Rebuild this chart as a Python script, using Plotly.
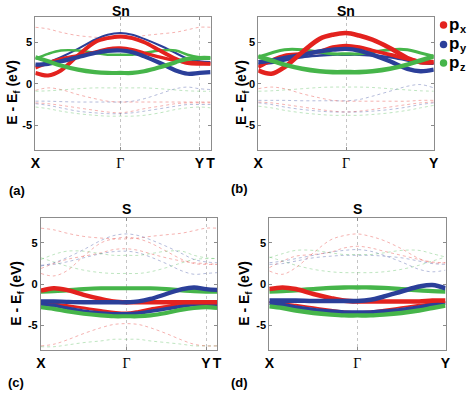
import plotly.graph_objects as go

# ---------------- data ----------------
# k-path coordinates (X-Γ-Y-T and X-Γ-Y)
K_XGYT = [0, 0.15, 0.3, 0.5, 0.7, 0.85, 1.0, 1.14, 1.28, 1.465, 1.65, 1.79, 1.93, 2.06]
K_XGY = [0, 0.15, 0.3, 0.5, 0.7, 0.85, 1.0, 1.15, 1.3, 1.5, 1.7, 1.85, 2.0]
TICKPOS_XGYT = [0, 1.0, 1.93, 2.06]
TICKTXT_XGYT = ["X", "Γ", "Y", "T"]
TICKPOS_XGY = [0, 1.0, 2.0]
TICKTXT_XGY = ["X", "Γ", "Y"]
Y_TICKS = [-5, 0, 5]

# band energies along X-Γ-Y-T (eV)
T_CB_R1 = [1.3, 1.0, 1.6, 3.4, 5.0, 5.5, 5.7, 5.5, 5.0, 4.0, 3.0, 2.5, 2.4, 2.4]
T_CB_R2 = [1.9, 2.5, 3.0, 3.4, 3.8, 4.2, 4.3, 4.1, 3.7, 3.2, 2.8, 2.6, 2.5, 2.4]
T_CB_B1 = [2.3, 2.4, 2.7, 3.2, 3.7, 3.95, 4.0, 3.8, 3.3, 2.5, 1.6, 1.2, 1.3, 1.4]
T_CB_B2 = [2.2, 2.6, 3.2, 4.2, 5.3, 5.9, 6.1, 5.9, 5.4, 4.6, 3.7, 3.0, 2.7, 2.6]
T_CB_G1 = [3.2, 2.7, 2.2, 1.7, 1.4, 1.3, 1.3, 1.3, 1.5, 2.0, 2.6, 3.0, 3.1, 3.1]
T_CB_G2 = [3.0, 3.6, 4.0, 4.0, 3.7, 3.5, 3.5, 3.5, 3.7, 4.0, 4.0, 3.5, 3.2, 3.1]
T_CB_R3 = [6.8, 6.6, 6.2, 5.8, 5.6, 5.5, 5.5, 5.6, 5.8, 6.0, 6.2, 6.5, 6.8, 6.8]
T_VB_G1 = [-0.9, -0.85, -0.75, -0.6, -0.5, -0.5, -0.5, -0.5, -0.5, -0.6, -0.75, -0.85, -0.9, -0.9]
T_VB_R1 = [-0.8, -0.5, -0.7, -1.3, -1.8, -2.1, -2.2, -2.2, -2.2, -2.2, -2.2, -2.2, -2.2, -2.2]
T_VB_B1 = [-2.1, -2.1, -2.15, -2.2, -2.2, -2.2, -2.2, -2.1, -1.8, -1.2, -0.6, -0.4, -0.6, -0.7]
T_VB_B2 = [-2.4, -2.6, -2.9, -3.3, -3.5, -3.6, -3.6, -3.5, -3.3, -3.0, -2.7, -2.5, -2.5, -2.5]
T_VB_R2 = [-2.3, -2.4, -2.6, -2.9, -3.2, -3.4, -3.5, -3.3, -3.0, -2.7, -2.4, -2.3, -2.3, -2.3]
T_VB_G2 = [-2.8, -3.0, -3.3, -3.6, -3.8, -3.9, -3.9, -3.9, -3.8, -3.5, -3.1, -2.9, -2.8, -2.9]
T_DB_R1 = [-7.5, -7.3, -6.8, -6.0, -5.3, -4.9, -4.8, -4.9, -5.3, -6.0, -6.8, -7.3, -7.5, -7.5]
T_DB_G1 = [-7.6, -7.6, -7.4, -7.1, -6.9, -6.7, -6.7, -6.7, -6.9, -7.1, -7.3, -7.5, -7.5, -7.5]

BANDS_XGYT = [T_CB_R1, T_CB_R2, T_CB_B1, T_CB_B2, T_CB_G1, T_CB_G2, T_CB_R3,
              T_VB_G1, T_VB_R1, T_VB_B1, T_VB_B2, T_VB_R2, T_VB_G2, T_DB_R1, T_DB_G1]
ORB_XGYT = ["px", "px", "py", "py", "pz", "pz", "px",
            "pz", "px", "py", "py", "px", "pz", "px", "pz"]
W_SN_XGYT = [0.8, 0.65, 0.85, 0.35, 0.85, 0.45, 0.1,
             0.12, 0.1, 0.08, 0.12, 0.1, 0.15, 0.0, 0.0]
W_S_XGYT = [0.15, 0.1, 0.15, 0.15, 0.1, 0.15, 0.08,
            0.85, 0.9, 0.9, 0.7, 0.55, 0.85, 0.15, 0.12]

# band energies along X-Γ-Y (eV)
G_CB_R1 = [1.6, 1.2, 2.0, 3.8, 5.4, 5.9, 6.1, 5.8, 5.3, 4.3, 3.1, 2.6, 2.6]
G_CB_R2 = [2.0, 2.8, 3.4, 3.6, 3.9, 4.4, 4.6, 4.4, 4.0, 3.5, 3.0, 2.7, 2.6]
G_CB_B1 = [2.6, 2.8, 3.1, 3.5, 3.9, 4.1, 4.2, 4.0, 3.5, 2.7, 1.8, 1.5, 1.7]
G_CB_B2 = [2.4, 2.5, 2.8, 3.2, 3.4, 3.5, 3.5, 3.5, 3.4, 3.2, 2.8, 2.5, 2.4]
G_CB_G1 = [3.3, 2.8, 2.3, 1.8, 1.5, 1.4, 1.4, 1.4, 1.5, 1.8, 2.3, 2.8, 3.3]
G_CB_G2 = [3.2, 3.7, 4.1, 4.1, 3.8, 3.6, 3.6, 3.6, 3.8, 4.1, 4.1, 3.7, 3.3]
G_VB_G1 = [-0.9, -0.85, -0.75, -0.6, -0.45, -0.4, -0.4, -0.4, -0.45, -0.6, -0.75, -0.85, -0.9]
G_VB_R1 = [-0.6, -0.4, -0.6, -1.2, -1.7, -2.0, -2.1, -2.1, -2.1, -2.1, -2.1, -2.0, -2.0]
G_VB_B1 = [-2.0, -2.0, -2.0, -2.05, -2.05, -2.05, -2.05, -1.9, -1.5, -0.9, -0.3, -0.1, -0.5]
G_VB_B2 = [-2.3, -2.5, -2.8, -3.1, -3.3, -3.4, -3.4, -3.4, -3.3, -3.1, -2.8, -2.5, -2.3]
G_VB_R2 = [-2.2, -2.3, -2.5, -2.8, -3.1, -3.3, -3.4, -3.3, -3.1, -2.8, -2.5, -2.3, -2.2]
G_VB_G2 = [-2.7, -2.9, -3.2, -3.5, -3.7, -3.8, -3.8, -3.8, -3.7, -3.5, -3.2, -2.9, -2.6]

BANDS_XGY = [G_CB_R1, G_CB_R2, G_CB_B1, G_CB_B2, G_CB_G1, G_CB_G2,
             G_VB_G1, G_VB_R1, G_VB_B1, G_VB_B2, G_VB_R2, G_VB_G2]
ORB_XGY = ["px", "px", "py", "py", "pz", "pz", "pz", "px", "py", "py", "px", "pz"]
W_SN_XGY = [0.95, 0.75, 0.9, 0.45, 0.95, 0.6, 0.1, 0.1, 0.08, 0.12, 0.1, 0.2]
W_S_XGY = [0.12, 0.12, 0.12, 0.15, 0.1, 0.15, 0.9, 0.95, 0.95, 0.8, 0.3, 0.9]

LEGEND_MAIN = ["p", "p", "p"]
LEGEND_SUB = ["x", "y", "z"]
LEGEND_ORBS = ["px", "py", "pz"]

# ---------------- style ----------------
W, H = 474, 399
COLORS = {"px": "#e3221e", "py": "#2b3f99", "pz": "#46b54a"}
FONT = "Liberation Sans, Arial, sans-serif"
FRAME = "#8c8c8c"


def px_x(p):
    return p / W


def px_y(p):
    return 1 - p / H


panels = [
    dict(ax="", xd=(31, 210), yd=(17.3, 150.2), k=K_XGYT, bands=BANDS_XGYT, orbs=ORB_XGYT,
         w=W_SN_XGYT, tp=TICKPOS_XGYT, tt=TICKTXT_XGYT, title="Sn", tpos=(119, 11),
         ylab=(8, 92), lab="(a)", lpos=(12, 190)),
    dict(ax="2", xd=(258.7, 438), yd=(17.3, 150.2), k=K_XGY, bands=BANDS_XGY, orbs=ORB_XGY,
         w=W_SN_XGY, tp=TICKPOS_XGY, tt=TICKTXT_XGY, title="Sn", tpos=(348, 11),
         ylab=(242, 92), lab="(b)", lpos=(240, 189)),
    dict(ax="3", xd=(36.7, 216.7), yd=(218.3, 350), k=K_XGYT, bands=BANDS_XGYT, orbs=ORB_XGYT,
         w=W_S_XGYT, tp=TICKPOS_XGYT, tt=TICKTXT_XGYT, title="S", tpos=(124, 209),
         ylab=(12, 293), lab="(c)", lpos=(11, 382)),
    dict(ax="4", xd=(270, 450), yd=(218.3, 350), k=K_XGY, bands=BANDS_XGY, orbs=ORB_XGY,
         w=W_S_XGY, tp=TICKPOS_XGY, tt=TICKTXT_XGY, title="S", tpos=(360, 209),
         ylab=(245, 293), lab="(d)", lpos=(240, 382)),
]

fig = go.Figure()
layout = dict(width=W, height=H, margin=dict(l=0, r=0, t=0, b=0),
              paper_bgcolor="white", plot_bgcolor="white", showlegend=False,
              font=dict(family=FONT, color="black"))
annotations = []
shapes = []


def note(text, xp, yp, size, xanchor="center", angle=0, weight="bold"):
    annotations.append(dict(text=text, x=px_x(xp), y=px_y(yp), xref="paper", yref="paper",
                            xanchor=xanchor, yanchor="middle", showarrow=False, textangle=angle,
                            font=dict(size=size, family=FONT, weight=weight, color="black")))


for p in panels:
    xa = "x" + p["ax"]
    ya = "y" + p["ax"]
    order = sorted(range(len(p["bands"])), key=lambda i: p["w"][i])
    for i in order:
        wt = p["w"][i]
        if wt <= 0:
            continue
        faint = wt < 0.25
        fig.add_trace(go.Scatter(
            x=p["k"], y=p["bands"][i], mode="lines", xaxis=xa, yaxis=ya,
            line=dict(color=COLORS[p["orbs"][i]], width=1.0 if faint else 0.6 + 4.2 * wt,
                      shape="spline", smoothing=1.0, dash="dot" if faint else "solid"),
            opacity=0.35 if faint else 1.0, hoverinfo="skip"))
    ticktext = []
    for t in p["tt"]:
        if t == "Γ":
            ticktext.append("<span style='font-family:Liberation Serif;font-weight:normal'>Γ</span>")
        else:
            ticktext.append(t)
    layout["xaxis" + p["ax"]] = dict(
        domain=[px_x(p["xd"][0]), px_x(p["xd"][1])], anchor=ya,
        range=[p["k"][0], p["k"][-1]], tickmode="array", tickvals=p["tp"], ticktext=ticktext,
        tickangle=0,
        showline=True, linecolor=FRAME, linewidth=1, mirror="ticks",
        ticks="inside", ticklen=3, tickcolor=FRAME,
        showgrid=True, gridcolor="#c4c4c4", griddash="dot", gridwidth=1, zeroline=False,
        tickfont=dict(size=14, family=FONT, weight="bold", color="black"))
    layout["yaxis" + p["ax"]] = dict(
        domain=[px_y(p["yd"][1]), px_y(p["yd"][0])], anchor=xa,
        range=[-8, 8], tickmode="array", tickvals=Y_TICKS, ticktext=[str(v) for v in Y_TICKS],
        tickangle=0,
        showline=True, linecolor=FRAME, linewidth=1, mirror="ticks",
        ticks="inside", ticklen=3, tickcolor=FRAME,
        showgrid=False, zeroline=False,
        tickfont=dict(size=11, family=FONT, weight="bold", color="black"))
    note(p["title"], p["tpos"][0], p["tpos"][1], 14)
    note("E - E<sub>f</sub> (eV)", p["ylab"][0], p["ylab"][1], 14, angle=-90)
    note(p["lab"], p["lpos"][0], p["lpos"][1], 13)

# legend (dots + labels): main letter and subscript as separate texts
LEG_X = 448
LEG_Y = [25, 44.5, 63]
for orb, main, sub, yy in zip(LEGEND_ORBS, LEGEND_MAIN, LEGEND_SUB, LEG_Y):
    r = 3.8
    shapes.append(dict(type="circle", xref="paper", yref="paper",
                       x0=px_x(LEG_X - r), x1=px_x(LEG_X + r),
                       y0=px_y(yy + r), y1=px_y(yy - r),
                       fillcolor=COLORS[orb], line=dict(width=0)))
    note(main, LEG_X + 4, yy - 1, 17, xanchor="left")
    note(sub, LEG_X + 14.5, yy + 4, 11, xanchor="left")

layout["annotations"] = annotations
layout["shapes"] = shapes
fig.update_layout(**layout)
fig.write_html(
    "out.html",
    config={"displayModeBar": False, "staticPlot": True},
    post_script="document.body.style.margin='0';document.body.style.padding='0';"
                "document.body.style.overflow='hidden';"
                "document.documentElement.style.overflow='hidden';",
)
